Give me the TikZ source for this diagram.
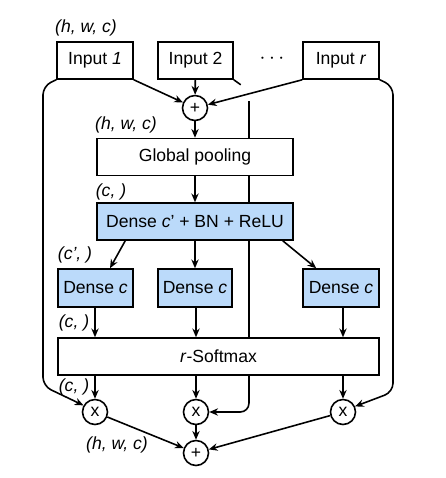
\documentclass[tikz,border=0pt]{standalone}
\usepackage{fontspec}
\setmainfont{Liberation Sans}
\usepackage{xcolor}
\usetikzlibrary{arrows.meta, calc, backgrounds}

\definecolor{densefill}{RGB}{187,218,250}

\begin{document}
\begin{tikzpicture}[
    x=0.02cm, y=-0.02cm,
    font=\fontsize{10}{12}\selectfont,
    >={Stealth[length=5pt, width=4.2pt]},
    box/.style={rectangle, draw=black, line width=0.9pt, fill=white, minimum height=0.74cm, inner sep=1pt, align=center},
    densebox/.style={box, fill=densefill},
    opcirc/.style={circle, draw=black, line width=0.9pt, fill=white, minimum size=0.5cm, inner sep=0pt},
    shapelbl/.style={font=\fontsize{10}{12}\selectfont\itshape},
    arr/.style={->, line width=0.9pt},
    plain/.style={line width=0.9pt},
]
    \useasboundingbox (0,0) rectangle (446,478);

    % ===== INPUTS =====
    \node[box, minimum width=1.52cm] (in1) at (95,60.5) {Input \textit{1}};
    \node[box, minimum width=1.50cm] (in2) at (195.5,60.5) {Input 2};
    \node (dots) at (272,59) {\large$\cdots$};
    \node[box, minimum width=1.52cm] (inr) at (341,60.5) {Input \textit{r}};
    \node[shapelbl] (lblin) at (86,28) {(h, w, c)};

    % ===== SQUEEZE PART =====
    \node[opcirc] (sum1) at (195,108) {+};
    \node[shapelbl] (lblsum) at (126,125) {(h, w, c)};
    \node[box, minimum width=3.92cm] (pool) at (195,157) {Global pooling};
    \node[shapelbl] (lblpool) at (111,192) {(c, )};
    \node[densebox, minimum width=3.92cm] (fc) at (195,221.5) {Dense \textit{c}’ + BN + ReLU};
    \node[shapelbl] (lblfc) at (75,255) {(c’, )};

    % ===== DENSE BRANCHES =====
    \node[densebox, minimum width=1.50cm, minimum height=0.76cm] (d1) at (95.5,288) {Dense \textit{c}};
    \node[densebox, minimum width=1.48cm, minimum height=0.76cm] (d2) at (195,288) {Dense \textit{c}};
    \node[densebox, minimum width=1.52cm, minimum height=0.76cm] (d3) at (341,288) {Dense \textit{c}};
    \node[shapelbl] (lbld) at (74,323) {(c, )};

    \node[box, minimum width=6.42cm] (smax) at (218.5,356.5) {\textit{r}-Softmax};
    \node[shapelbl] (lblsmax) at (74,387) {(c, )};

    % ===== SELECTION =====
    \node[opcirc] (m1) at (95,412) {x};
    \node[opcirc] (m2) at (196,412) {x};
    \node[opcirc] (m3) at (343,412) {x};
    \node[opcirc] (sum2) at (196,453) {+};
    \node[shapelbl] (lblout) at (117,445) {(h, w, c)};

    % Bypass of input 2 runs behind the boxes
    \coordinate (jmp) at (249,101);
    \begin{scope}[on background layer]
        \draw[plain] (in2.south east) -- ++(7,5);
        \draw[arr, rounded corners=5pt] (jmp) -- (jmp |- m2.east) -- (m2.east);
    \end{scope}

    % Edges: inputs to sum
    \draw[arr] (in1.south east) -- (sum1);
    \draw[arr] (in2) -- (sum1);
    \draw[arr] (inr.south west) -- (sum1);
    \draw[arr] (sum1) -- (pool);
    \draw[arr] (pool) -- (fc);

    % Edges: fc to dense
    \draw[arr] ([xshift=0.58cm]fc.south west) -- ([xshift=0.29cm]d1.north);
    \draw[arr] (fc.south -| d2.north) -- (d2.north);
    \draw[arr] ([xshift=-0.22cm]fc.south east) -- ([xshift=0.28cm]d3.north west);

    % Edges: dense to softmax to products
    \foreach \d/\m in {d1/m1, d2/m2, d3/m3}{
        \draw[arr] (\d.south -| \m) -- (\m |- smax.north);
        \draw[arr] (\m |- smax.south) -- (\m.north);
    }

    % Bypass lines
    \draw[arr, rounded corners=5pt] (in1.south west) -- (43,86) -- (43,386) -- (m1.150);
    \draw[arr, rounded corners=5pt] (inr.south east) -- (393,86) -- (393,392) -- (m3.25);

    % Edges: products to output
    \draw[arr] (m1) -- (sum2);
    \draw[arr] (m2) -- (sum2);
    \draw[arr] (m3) -- (sum2);

\end{tikzpicture}
\end{document}
